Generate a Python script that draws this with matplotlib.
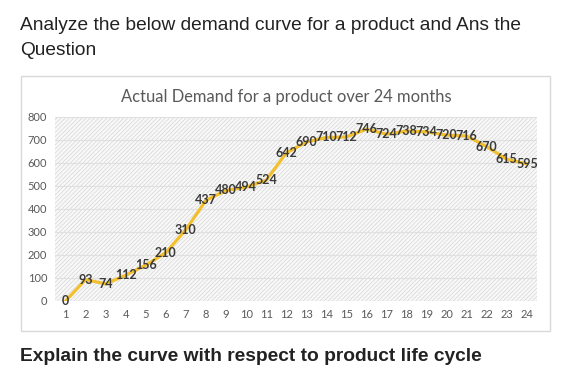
import matplotlib
matplotlib.use("Agg")
import matplotlib.pyplot as plt
from matplotlib.patches import Rectangle

# Data
months = list(range(1, 25))
demand = [0, 93, 74, 112, 156, 210, 310, 437, 480, 494, 524, 642,
          690, 710, 712, 746, 724, 738, 734, 720, 716, 670, 615, 595]
y_ticks = [0, 100, 200, 300, 400, 500, 600, 700, 800]

line_color = "#F2BF2E"
label_color = "#3A3A3A"
tick_color = "#595959"

plt.rcParams["hatch.linewidth"] = 0.5
plt.rcParams["hatch.color"] = "#D6D6D6"

fig = plt.figure(figsize=(5.64, 3.80), dpi=100)
fig.patch.set_facecolor("white")

# Question text above and below the chart
fig.text(0.0355, 0.934, "Analyze the below demand curve for a product and Ans the",
         family="Liberation Sans", fontsize=13.8, color="#222222", va="center")
fig.text(0.0355, 0.868, "Question",
         family="Liberation Sans", fontsize=13.8, color="#222222", va="center")
fig.text(0.0355, 0.061, "Explain the curve with respect to product life cycle",
         family="Liberation Sans", fontsize=13.8, fontweight="bold", color="#222222", va="center")

# chart frame
fig.patches.append(Rectangle((0.0372, 0.129), 0.9378, 0.671, transform=fig.transFigure,
                             fill=False, edgecolor="#D9D9D9", linewidth=1))
fig.text(0.507, 0.745, "Actual Demand for a product over 24 months",
         family="Lato", fontsize=11.9, color=tick_color, ha="center", va="center")

ax = fig.add_axes([0.0984, 0.2079, 0.8536, 0.485])
ax.set_facecolor("#F8F8F8")
ax.add_patch(Rectangle((0, 0), 1, 1, transform=ax.transAxes, facecolor="none",
                       hatch="////////", edgecolor="#D6D6D6", linewidth=0, zorder=0))

ax.plot(months, demand, color=line_color, linewidth=2.3, zorder=3)
for m, d in zip(months, demand):
    ax.text(m, d, str(d), ha="center", va="center", family="Lato", fontweight="bold",
            fontsize=9, color=label_color, zorder=4)

ax.set_xlim(0.5, 24.5)
ax.set_ylim(0, 800)
ax.set_xticks(months)
ax.set_yticks(y_ticks)
ax.grid(axis="y", color="#E0E0E0", linewidth=0.8)
ax.set_axisbelow(True)
for s in ax.spines.values():
    s.set_visible(False)
ax.tick_params(length=0, labelsize=8, labelcolor=tick_color, pad=6)
for lab in ax.get_xticklabels() + ax.get_yticklabels():
    lab.set_family("Lato")

fig.savefig("out.png", dpi=100)
